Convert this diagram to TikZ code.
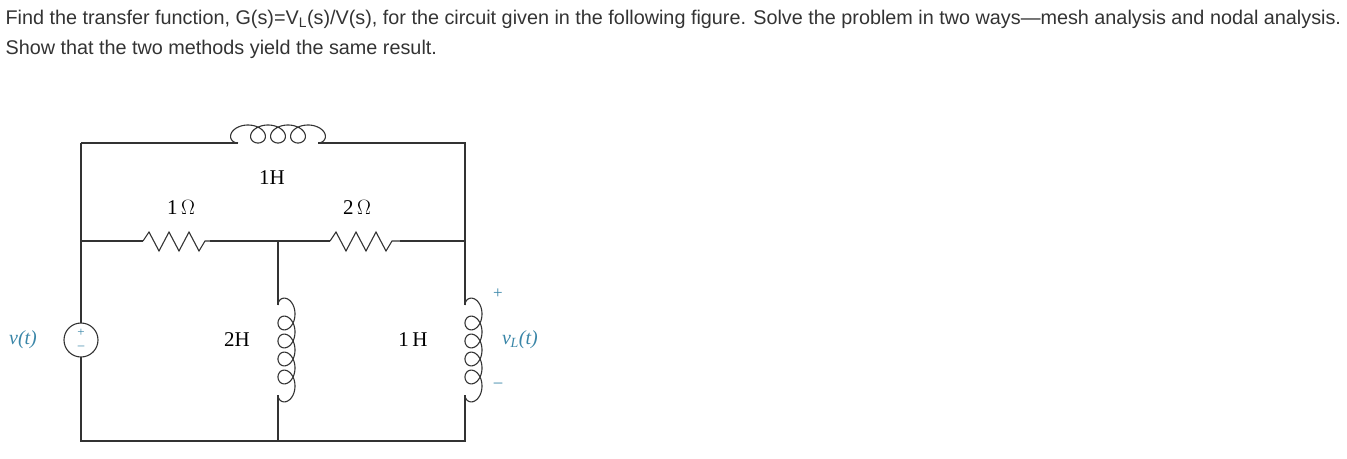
\documentclass[tikz,border=0pt]{standalone}
\usepackage{fontspec}
\setmainfont{Liberation Serif}
\newfontfamily\uifont{Liberation Sans}
\definecolor{lab}{HTML}{3A86A8}
\definecolor{txt}{HTML}{333333}
\begin{document}
\begin{tikzpicture}[x=1pt,y=-1pt,line width=1.1pt,
  wire/.style={draw=black!80},
  lbl/.style={font=\fontsize{21}{21}\selectfont,inner sep=0pt},
  blbl/.style={font=\fontsize{20}{20}\selectfont\itshape,text=lab,inner sep=0pt},
  pm/.style={text=lab,font=\fontsize{17}{17}\selectfont,inner sep=0pt},
  spm/.style={text=lab,font=\fontsize{13}{13}\selectfont,inner sep=0pt}]
\useasboundingbox (0,0) rectangle (1347,458);
\node[anchor=base west,inner sep=0pt,text=txt,font=\uifont\fontsize{19.8}{19.8}\selectfont] (t1) at (5,24) {Find the transfer function, G(s)=V\textsubscript{L}(s)/V(s), for the circuit given in the following figure. Solve the problem in two ways—mesh analysis and nodal analysis.};
\node[anchor=base west,inner sep=0pt,text=txt,font=\uifont\fontsize{19.8}{19.8}\selectfont] (t2) at (5,54) {Show that the two methods yield the same result.};
% nodes
\coordinate (TL) at (81,143); \coordinate (TR) at (465,143);
\coordinate (ML) at (81,241); \coordinate (MM) at (278,241); \coordinate (MR) at (465,241);
\coordinate (BL) at (81,441); \coordinate (BM) at (278,441); \coordinate (BR) at (465,441);
\coordinate (S) at (81,340);
% wires
\draw[wire] (TL) -- (230,143);
\draw[wire] (326,143) -- (TR) -- (MR);
\draw[wire] (TL) -- (ML) -- (143,241);
\draw[wire] (S) ++(0,-17) -- (ML);
\draw[wire] (S) ++(0,17) -- (BL) -- (BR) -- (465,398);
\draw[wire] (210,241) -- (MM) -- (330,241);
\draw[wire] (400,241) -- (MR) -- (465,302);
\draw[wire] (MM) -- (278,302);
\draw[wire] (BM) -- (278,398);
% top inductor
\draw[wire,smooth,samples=200,domain=0:4] plot ({238+20*\x-12*sin(360*\x)},{143-9*(1-cos(360*\x))});
\draw[wire] (230,143) -- (238,143); \draw[wire] (318,143) -- (326,143);
% vertical inductors
\draw[wire,smooth,samples=220,domain=0:5] plot ({278+8.5*(1-cos(360*\x))},{305+18*\x-11*sin(360*\x)});
\draw[wire] (278,302) -- (278,305); \draw[wire] (278,395) -- (278,398);
\draw[wire,smooth,samples=220,domain=0:5] plot ({465+8.5*(1-cos(360*\x))},{305+18*\x-11*sin(360*\x)});
\draw[wire] (465,302) -- (465,305); \draw[wire] (465,395) -- (465,398);
% resistors
\draw[wire] (143,241) -- (149,232) -- (159,251) -- (169,232) -- (179,251) -- (189,232) -- (199,251) -- (205,241) -- (210,241);
\draw[wire] (330,241) -- (336,232) -- (346,251) -- (356,232) -- (366,251) -- (376,232) -- (386,251) -- (392,241) -- (400,241);
% source
\draw[wire] (S) circle (17);
\node[spm] (sp) at (81,333) {+};
\node[spm] (sm) at (81,348) {\textendash};
% labels
\node[lbl] (l1) at (272,178) {1H};
\node[lbl] (l2) at (181,207) {1$\,\Omega$};
\node[lbl] (l3) at (357,207) {2\,$\Omega$};
\node[lbl] (l4) at (237,340) {2H};
\node[lbl] (l5) at (413,340) {1\,H};
\node[blbl] (vt) at (23,340) {v(t)};
\node[blbl] (vl) at (520,340) {v\textsubscript{\kern-0.5pt L}(t)};
\node[pm] (vp) at (498,294) {+};
\node[pm] (vm) at (498,385) {\textendash};
\end{tikzpicture}
\end{document}
